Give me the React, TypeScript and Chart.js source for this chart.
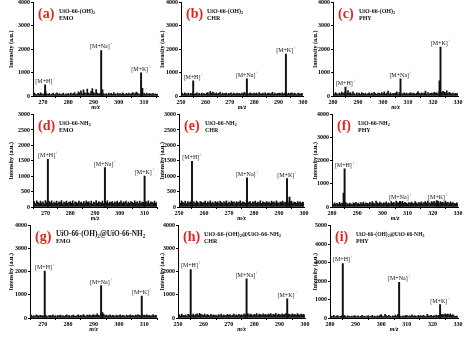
import React, { useEffect, useRef } from 'react';
import { Chart, registerables } from 'chart.js';

Chart.register(...registerables);

const SERIF = '"Liberation Serif", "DejaVu Serif", serif';
const MZ_STEP = 0.5;

// ---- baseline noise (intensity every 0.5 m/z from the panel's x minimum) ----
const noiseA = [
  40, 120, 80, 50, 110, 70, 140, 90,
  60, 130, 200, 90, 70, 110, 50, 80, 120, 60,
  90, 140, 70, 100, 60, 80, 120, 50, 90, 70,
  110, 60, 130, 80, 100, 150, 70, 90, 180, 120,
  220, 90, 260, 140, 110, 300, 130, 90, 200, 320,
  150, 100, 280, 120, 80, 110, 60, 140, 90, 70,
  100, 60, 130, 80, 110, 70, 150, 90, 60, 120,
  80, 100, 70, 140, 90, 60, 110, 80, 130, 70,
  100, 150, 90, 120, 170, 110, 60, 90, 140, 80,
  110, 70, 130, 60, 100, 90, 80, 110, 60, 90, 70, 80,
];
const noiseB = [
  90, 120, 70, 140, 100, 80, 130, 60, 110, 90,
  120, 70, 100, 140, 80, 110, 60, 130, 90, 100,
  70, 120, 150, 90, 200, 110, 170, 130, 90, 140,
  80, 110, 160, 70, 120, 90, 100, 130, 60, 110,
  90, 140, 70, 120, 100, 80, 130, 90, 110, 70,
  120, 100, 160, 90, 130, 70, 110, 140, 80, 100,
  130, 90, 120, 70, 150, 100, 80, 120, 90, 140,
  70, 110, 130, 90, 100, 160, 80, 120, 70, 110,
  100, 130, 90, 140, 80, 120, 100, 70, 130, 90,
  110, 140, 80, 120, 90, 60, 130, 100, 80, 110, 90,
];
const noiseC = [
  120, 80, 150, 100, 60, 130, 90, 170, 110, 140,
  200, 90, 230, 120, 150, 80, 180, 100, 60, 140,
  90, 120, 70, 150, 110, 80, 130, 60, 100, 140,
  80, 120, 90, 160, 100, 70, 130, 110, 90, 150,
  100, 180, 80, 120, 210, 90, 140, 70, 110, 100,
  130, 180, 90, 150, 120, 80, 100, 140, 90, 130,
  70, 110, 150, 90, 120, 100, 80, 130, 190, 110,
  90, 140, 100, 120, 210, 80, 150, 90, 110, 130,
  100, 160, 120, 140, 90, 180, 110, 150, 200, 170,
  140, 220, 100, 160, 120, 90, 130, 80, 110, 100, 90,
];
const noiseD = [
  140, 180, 110, 200, 150, 120, 190, 130, 170, 100,
  210, 150, 120, 180, 140, 200, 110, 160, 130, 190,
  120, 170, 150, 210, 100, 160, 140, 190, 120, 150,
  180, 130, 200, 110, 170, 150, 120, 190, 140, 160,
  110, 180, 130, 200, 150, 170, 120, 190, 100, 160,
  140, 210, 120, 180, 150, 130, 190, 110, 170, 140,
  200, 120, 160, 150, 180, 110, 170, 140, 190, 130,
  150, 200, 120, 170, 140, 190, 110, 160, 130, 180,
  150, 120, 200, 140, 170, 110, 190, 130, 160, 150,
  120, 180, 140, 200, 110, 170, 150, 130, 190, 120, 160,
];
const noiseE = [
  170, 120, 200, 150, 130, 190, 110, 180, 140, 160,
  200, 130, 170, 120, 190, 150, 110, 180, 160, 130,
  150, 190, 120, 170, 140, 200, 130, 160, 110, 180,
  140, 170, 130, 190, 150, 120, 180, 140, 200, 110,
  160, 130, 190, 150, 170, 120, 180, 140, 160, 200,
  130, 170, 150, 120, 190, 140, 160, 180, 110, 170,
  150, 190, 130, 160, 140, 200, 120, 170, 150, 130,
  180, 140, 160, 120, 190, 150, 170, 130, 200, 140,
  120, 170, 150, 190, 130, 160, 140, 180, 120, 170,
  190, 130, 160, 150, 120, 180, 140, 170, 130, 160, 150,
];
const noiseF = [
  150, 110, 180, 130, 160, 120, 200, 140, 170, 110,
  130, 190, 150, 120, 170, 140, 110, 180, 160, 200,
  140, 170, 120, 190, 150, 210, 130, 180, 160, 140,
  200, 150, 230, 170, 140, 260, 180, 150, 210, 170,
  140, 190, 160, 220, 150, 180, 140, 240, 170, 200,
  150, 260, 190, 170, 230, 180, 250, 160, 200, 170,
  140, 190, 160, 210, 170, 150, 230, 180, 140, 200,
  170, 220, 150, 190, 240, 170, 260, 180, 150, 230,
  190, 250, 170, 280, 200, 160, 230, 190, 210, 170,
  260, 180, 200, 150, 220, 170, 190, 160, 140, 180, 150,
];
const noiseG = [
  90, 130, 70, 110, 60, 140, 100, 80, 120, 90,
  110, 70, 130, 90, 60, 100, 120, 80, 140, 70,
  100, 60, 120, 90, 130, 80, 110, 70, 100, 140,
  80, 120, 60, 100, 130, 90, 70, 110, 140, 80,
  120, 90, 150, 100, 70, 130, 110, 140, 90, 120,
  150, 100, 130, 180, 120, 90, 200, 140, 170, 100,
  130, 90, 110, 140, 80, 120, 100, 70, 130, 90,
  110, 140, 80, 120, 100, 60, 130, 90, 110, 140,
  90, 120, 70, 130, 100, 150, 120, 90, 160, 110,
  130, 90, 140, 100, 120, 80, 110, 150, 90, 120, 100,
];
const noiseH = [
  110, 150, 90, 170, 120, 100, 140, 80, 160, 130,
  90, 120, 170, 110, 150, 180, 130, 200, 160, 140,
  120, 170, 100, 150, 130, 90, 160, 110, 140, 100,
  130, 80, 150, 110, 170, 90, 140, 120, 100, 160,
  120, 150, 90, 130, 170, 110, 140, 100, 160, 120,
  150, 110, 180, 140, 120, 190, 130, 170, 150, 110,
  160, 140, 190, 120, 170, 150, 130, 180, 140, 160,
  120, 170, 150, 190, 130, 160, 140, 200, 120, 170,
  150, 130, 180, 140, 160, 190, 120, 170, 150, 130,
  180, 140, 160, 120, 190, 150, 130, 170, 140, 160, 120,
];
const noiseI = [
  60, 110, 80, 140, 70, 100, 130, 60, 90, 120,
  80, 150, 100, 70, 120, 90, 60, 110, 80, 130,
  100, 70, 120, 60, 90, 140, 80, 110, 70, 100,
  130, 60, 90, 150, 80, 110, 70, 120, 90, 140,
  180, 110, 80, 200, 130, 90, 150, 100, 70, 120,
  90, 160, 110, 180, 140, 100, 70, 120, 90, 130,
  150, 80, 120, 100, 170, 90, 130, 110, 80, 140,
  100, 130, 90, 150, 110, 80, 200, 120, 100, 140,
  90, 130, 110, 160, 120, 150, 100, 180, 200, 160,
  230, 180, 210, 170, 220, 150, 190, 120, 90, 110, 80,
];

// ---- labelled peaks [m/z, intensity]; first three are [M+H]+, [M+Na]+, [M+K]+ ----
const peaksA = [[270.8, 480], [293, 1950], [308.8, 990], [309.3, 330], [293.5, 260]];
const peaksB = [[255, 650], [277, 740], [293, 1800]];
const peaksC = [[285, 380], [307, 740], [323, 2100], [322.6, 650]];
const peaksD = [[271, 1550], [294, 1280], [310, 1000]];
const peaksE = [[255.2, 1480], [277.2, 950], [293.2, 920], [294.2, 320]];
const peaksF = [[285, 1650], [307, 250], [322, 260], [284.6, 600]];
const peaksG = [[270.8, 2030], [293, 1400], [309, 950], [293.5, 230]];
const peaksH = [[255, 2100], [277, 1700], [293, 830]];
const peaksI = [[285, 2950], [307, 1930], [323, 720]];

const ionLabels = ['[M+H]', '[M+Na]', '[M+K]'];
const materialOH = 'UiO-66-(OH)_2';
const materialNH = 'UiO-66-NH_2';
const materialMix = 'UiO-66-(OH)_2@UiO-66-NH_2';
const drugs = ['EMO', 'CHR', 'PHY'];
const X_TICK_STEP = 10;

type Panel = {
  letter: string; material: string; drug: string;
  xMin: number; xMax: number; yMax: number; yStep: number;
  noise: number[]; peaks: number[][];
  box: { l: number; t: number; r: number; b: number };
  canvasL: number; titleX: number; matSize: number;
};

const PANELS: Panel[] = [
  { letter: 'a', material: materialOH, drug: drugs[0], xMin: 266, xMax: 315.5, yMax: 4000, yStep: 1000, noise: noiseA, peaks: peaksA, box: { l: 33, t: 2, r: 158, b: 96 }, canvasL: 0, titleX: 11, matSize: 6 },
  { letter: 'b', material: materialOH, drug: drugs[1], xMin: 250, xMax: 300, yMax: 4000, yStep: 1000, noise: noiseB, peaks: peaksB, box: { l: 181, t: 2, r: 303, b: 96 }, canvasL: 156, titleX: 162, matSize: 6 },
  { letter: 'c', material: materialOH, drug: drugs[2], xMin: 280, xMax: 330, yMax: 4000, yStep: 1000, noise: noiseC, peaks: peaksC, box: { l: 333, t: 2, r: 458, b: 96 }, canvasL: 309, titleX: 315, matSize: 6 },
  { letter: 'd', material: materialNH, drug: drugs[0], xMin: 265, xMax: 315, yMax: 3000, yStep: 500, noise: noiseD, peaks: peaksD, box: { l: 33, t: 114, r: 157, b: 207 }, canvasL: 0, titleX: 11, matSize: 6 },
  { letter: 'e', material: materialNH, drug: drugs[1], xMin: 250, xMax: 300, yMax: 3000, yStep: 500, noise: noiseE, peaks: peaksE, box: { l: 179, t: 114, r: 304, b: 207 }, canvasL: 156, titleX: 162, matSize: 6 },
  { letter: 'f', material: materialNH, drug: drugs[2], xMin: 280, xMax: 330, yMax: 4000, yStep: 1000, noise: noiseF, peaks: peaksF, box: { l: 332, t: 114, r: 458, b: 207 }, canvasL: 309, titleX: 315, matSize: 6 },
  { letter: 'g', material: materialMix, drug: drugs[0], xMin: 265, xMax: 315, yMax: 4000, yStep: 1000, noise: noiseG, peaks: peaksG, box: { l: 30, t: 225, r: 157, b: 318 }, canvasL: 0, titleX: 11, matSize: 7.3 },
  { letter: 'h', material: materialMix, drug: drugs[1], xMin: 250, xMax: 300, yMax: 4000, yStep: 1000, noise: noiseH, peaks: peaksH, box: { l: 178, t: 225, r: 305, b: 318 }, canvasL: 156, titleX: 162, matSize: 6.3 },
  { letter: 'i', material: materialMix, drug: drugs[2], xMin: 280, xMax: 330, yMax: 5000, yStep: 1000, noise: noiseI, peaks: peaksI, box: { l: 330, t: 225, r: 458, b: 318 }, canvasL: 309, titleX: 315, matSize: 5.6 },
];

function drawRich(ctx: CanvasRenderingContext2D, text: string, x: number, y: number, size: number, weight: string) {
  // '_c' -> subscript c
  let cx = x;
  let i = 0;
  while (i < text.length) {
    if (text[i] === '_' && i + 1 < text.length) {
      ctx.font = `${weight} ${size * 0.7}px ${SERIF}`;
      ctx.fillText(text[i + 1], cx, y + size * 0.3);
      cx += ctx.measureText(text[i + 1]).width;
      i += 2;
    } else {
      let j = i;
      while (j < text.length && text[j] !== '_') j++;
      const part = text.slice(i, j);
      ctx.font = `${weight} ${size}px ${SERIF}`;
      ctx.fillText(part, cx, y);
      cx += ctx.measureText(part).width;
      i = j;
    }
  }
}

function SpectrumChart({ p }: { p: Panel }) {
  const ref = useRef<HTMLCanvasElement | null>(null);
  const canvasTop = p.box.t - 4;
  const padRight = 8;
  const xAxisH = 15;
  const W = p.box.r + padRight - p.canvasL;
  const H = p.box.b + xAxisH - canvasTop;
  const yW = p.box.l - p.canvasL;

  useEffect(() => {
    if (!ref.current) return;
    const noiseData = p.noise.map((v, i) => ({ x: p.xMin + i * MZ_STEP, y: v }));
    const peakData = p.peaks.map(([x, y]) => ({ x, y }));
    const tickFont = { family: SERIF, size: 6, weight: 'bold' as const };

    const labelPlugin = {
      id: 'labels' + p.letter,
      afterDatasetsDraw(chart: any) {
        const ctx: CanvasRenderingContext2D = chart.ctx;
        const { left, top } = chart.chartArea;
        const xs = chart.scales.x;
        const ys = chart.scales.y;
        ctx.save();
        ctx.textAlign = 'left';
        ctx.textBaseline = 'alphabetic';
        ctx.fillStyle = '#e3241c';
        ctx.font = `bold 14px ${SERIF}`;
        ctx.fillText(`(${p.letter})`, left + 5, top + 15);
        ctx.fillStyle = '#111';
        drawRich(ctx, p.material, left + 26, top + 10, p.matSize, 'bold');
        ctx.font = `bold 6px ${SERIF}`;
        ctx.fillText(p.drug, left + 26, top + 17.5);
        ionLabels.forEach((lab, i) => {
          const pk = p.peaks[i];
          const px = xs.getPixelForValue(pk[0]);
          const py = ys.getPixelForValue(pk[1]) - 2;
          ctx.font = `6px ${SERIF}`;
          const w = ctx.measureText(lab).width;
          ctx.font = `4.5px ${SERIF}`;
          const w2 = ctx.measureText('+').width;
          const x0 = px - (w + w2) / 2;
          ctx.font = `6px ${SERIF}`;
          ctx.fillText(lab, x0, py);
          ctx.font = `4.5px ${SERIF}`;
          ctx.fillText('+', x0 + w + 0.3, py - 3);
        });
        ctx.restore();
      },
    };

    const chart = new Chart(ref.current, {
      type: 'bar',
      data: {
        datasets: [
          { data: noiseData as any, backgroundColor: '#111', barThickness: 1, grouped: false, borderWidth: 0 } as any,
          { data: peakData as any, backgroundColor: '#111', barThickness: 1.3, grouped: false, borderWidth: 0 } as any,
        ],
      },
      options: {
        responsive: false,
        maintainAspectRatio: false,
        animation: false,
        layout: { padding: { top: 4, right: padRight, left: 0, bottom: 0 } },
        plugins: { legend: { display: false }, tooltip: { enabled: false } },
        scales: {
          x: {
            type: 'linear',
            min: p.xMin,
            max: p.xMax,
            offset: false,
            grid: { display: true, drawOnChartArea: false, tickLength: 2, color: '#000' },
            border: { display: true, color: '#000', width: 1 },
            ticks: { stepSize: X_TICK_STEP, includeBounds: false, padding: 1, color: '#000', font: tickFont, maxRotation: 0, autoSkip: false, callback: (v: any) => String(v) },
            afterBuildTicks: (s: any) => {
              const out: { value: number }[] = [];
              for (let v = Math.ceil(p.xMin / X_TICK_STEP) * X_TICK_STEP; v <= p.xMax + 1e-9; v += X_TICK_STEP) out.push({ value: v });
              s.ticks = out;
            },
            title: { display: true, text: 'm/z', color: '#000', font: { family: SERIF, size: 6, style: 'italic', weight: 'bold' }, padding: { top: 0, bottom: 0 } },
            afterFit: (s: any) => { s.height = xAxisH; },
          },
          y: {
            type: 'linear',
            min: 0,
            max: p.yMax,
            grid: { display: true, drawOnChartArea: false, tickLength: 2, color: '#000' },
            border: { display: true, color: '#000', width: 1 },
            ticks: { stepSize: p.yStep, padding: 1, color: '#000', font: tickFont, autoSkip: false, callback: (v: any) => String(v) },
            title: { display: true, text: 'Intensity (a.u.)', color: '#000', font: { family: SERIF, size: 6, weight: 'bold' }, padding: { top: p.titleX - p.canvasL - 3.6, bottom: 0 } },
            afterFit: (s: any) => { s.width = yW; },
          },
        },
      } as any,
      plugins: [labelPlugin],
    });
    return () => chart.destroy();
  }, []);

  return (
    <canvas
      ref={ref}
      width={W}
      height={H}
      style={{ position: 'absolute', left: p.canvasL, top: canvasTop, width: W, height: H }}
    />
  );
}

export default function App() {
  return (
    <div style={{ position: 'fixed', left: 0, top: 0, width: 474, height: 344, background: '#fff', overflow: 'hidden' }}>
      {PANELS.map((p) => (
        <SpectrumChart key={p.letter} p={p} />
      ))}
    </div>
  );
}
